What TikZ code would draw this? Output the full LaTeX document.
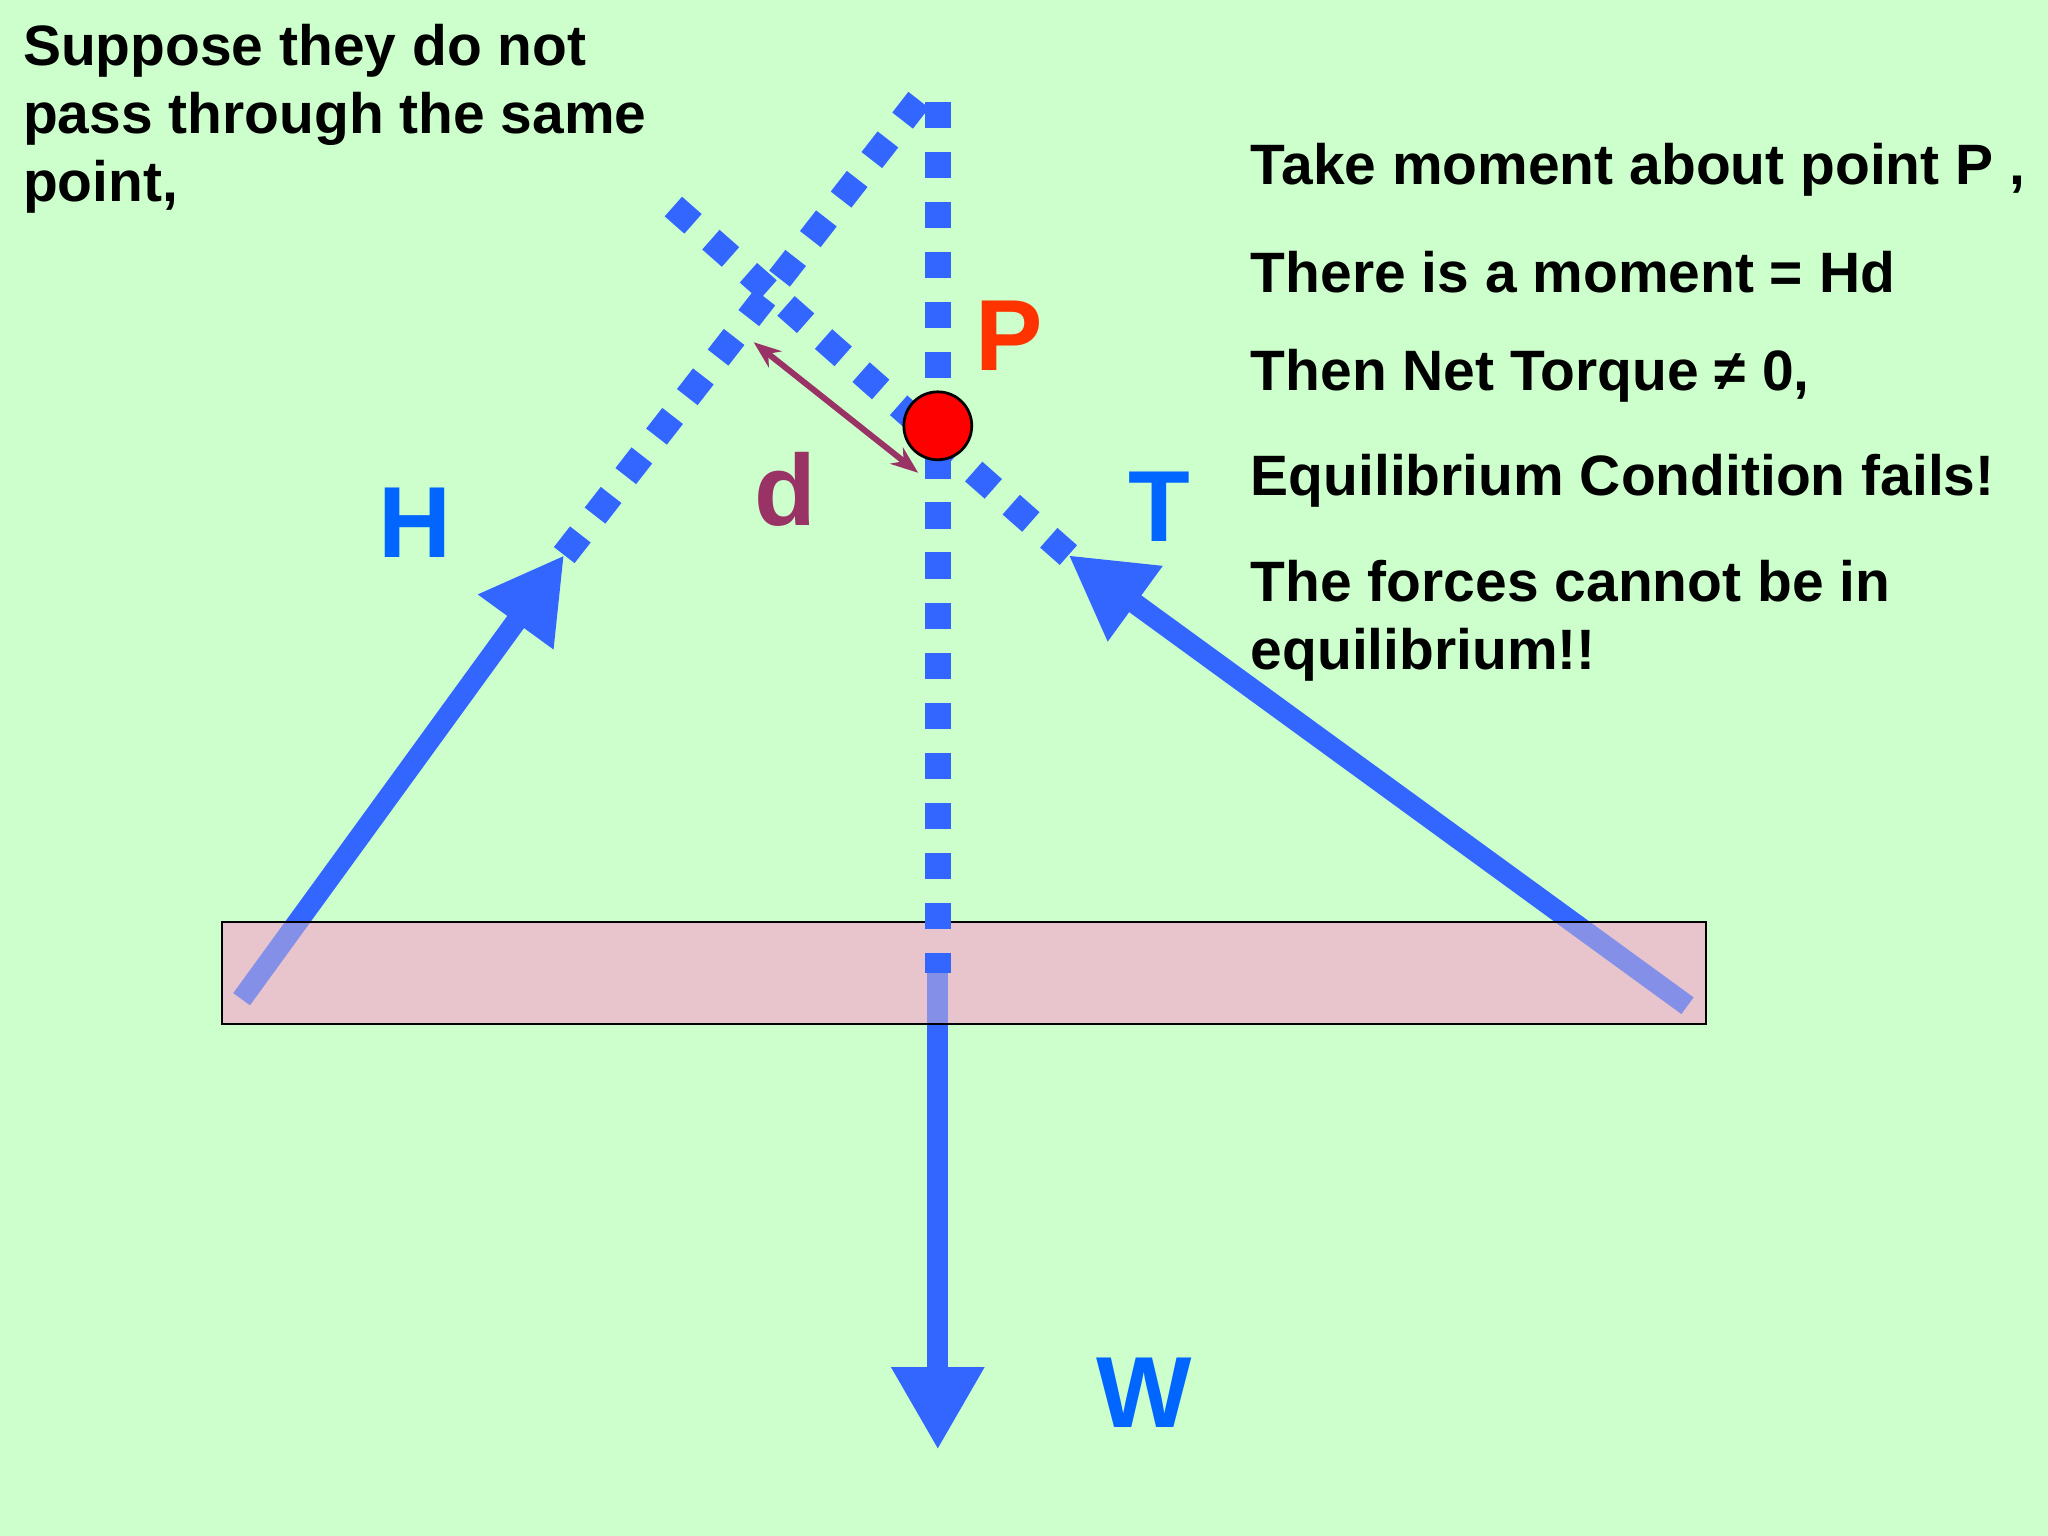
\documentclass[tikz,border=0pt]{standalone}
\usepackage{fontspec}
\setmainfont{Liberation Sans}
\usetikzlibrary{arrows.meta}
\definecolor{bg}{HTML}{CCFFCC}
\definecolor{fb}{HTML}{3366FF}
\definecolor{lb}{HTML}{0066FF}
\definecolor{pr}{HTML}{993366}
\definecolor{pk}{HTML}{E8C4CC}
\begin{document}
\begin{tikzpicture}[x=0.01cm,y=-0.01cm,
  dots/.style={fb,line width=5.7pt,dash pattern=on 5.7pt off 5.2pt},
  force/.style={fb,line width=4.5pt,-{Triangle[length=18pt,width=19pt]}},
  big/.style={font=\fontsize{22}{26}\selectfont\bfseries},
  txt/.style={font=\fontsize{12.4}{14.5}\selectfont\bfseries,anchor=west,inner sep=0pt}]
\fill[bg] (0,0) rectangle (1568,1176);
\useasboundingbox (0,0) rectangle (1568,1176);
\coordinate (hs) at (185,765); \coordinate (he) at (432,425); \coordinate (ht) at (710,68);
\coordinate (ts) at (1292,770); \coordinate (te) at (818,425); \coordinate (tt) at (512,155);
\coordinate (vt) at (718,78); \coordinate (vm) at (718,745); \coordinate (ve) at (718,1110);
\fill[pk] (170,706) rectangle (1306,784);
\draw[force] (hs) -- (he);
\draw[force] (ts) -- (te);
\draw[force] (vm) -- (ve);
\node[draw=black,fill=pk,fill opacity=0.45,minimum width=1136*0.01cm,minimum height=78*0.01cm,inner sep=0pt,line width=0.5pt] (bar) at (738,745) {};
\draw[dots] (he) -- (ht);
\draw[dots] (te) -- (tt);
\draw[dots] (vt) -- (vm);
\node[circle,fill=red,draw=black,line width=0.6pt,minimum size=52*0.01cm,inner sep=0pt] (P) at (718,326) {};
\coordinate (d1) at (577,262); \coordinate (d2) at (703,362);
\draw[pr,line width=1.3pt,{Stealth[length=6pt]}-{Stealth[length=6pt]}] (d1) -- (d2);
\node[big,text=lb] (H) at (318,400) {H};
\node[big,text=pr] (d) at (601,375) {d};
\node[big,text={rgb,255:red,255;green,51;blue,0}] (Pl) at (773,257) {P};
\node[big,text=lb] (T) at (888,388) {T};
\node[big,text=lb] (W) at (876,1066) {W};
\node[txt,anchor=north west,align=left,font=\fontsize{12.4}{14.8}\selectfont\bfseries] (t0) at (17,18) {Suppose they do not\\pass through the same\\point,};
\node[txt] (t1) at (957,130) {Take moment about point P ,};
\node[txt] (t2) at (957,208) {There is a moment = Hd};
\node[txt] (t3) at (957,288) {Then Net Torque ≠ 0,};
\node[txt] (t4) at (957,368) {Equilibrium Condition fails!};
\node[txt,anchor=north west,align=left,font=\fontsize{12.4}{14.8}\selectfont\bfseries] (t5) at (957,428) {The forces cannot be in\\equilibrium!!};
\end{tikzpicture}
\end{document}
